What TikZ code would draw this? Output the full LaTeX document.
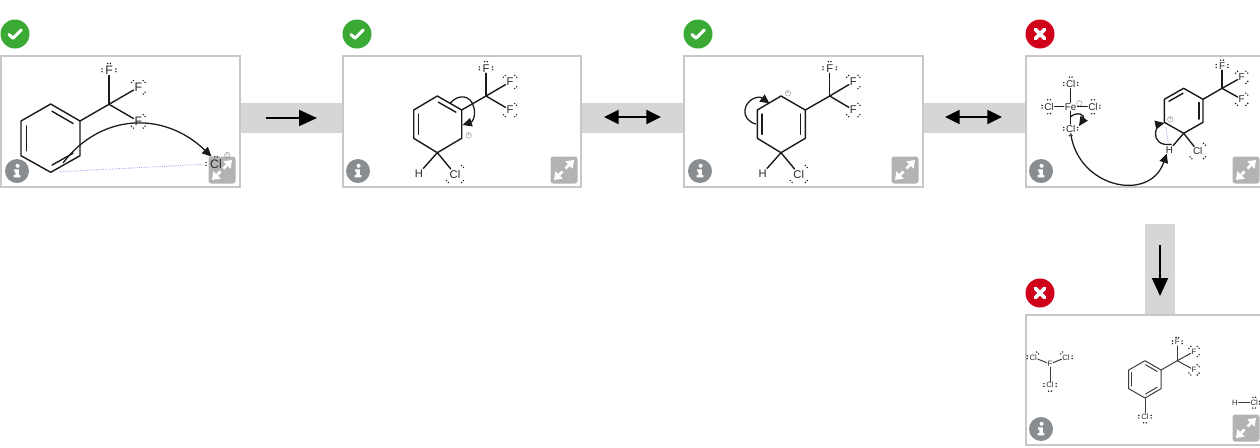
\documentclass[tikz,border=0pt]{standalone}
\usepackage{fontspec}
\setmainfont{Liberation Sans}
\usetikzlibrary{arrows.meta,calc}
\definecolor{okgreen}{HTML}{3AAA35}
\definecolor{badred}{HTML}{D0021B}
\definecolor{infogray}{HTML}{8A8D90}
\definecolor{bargray}{HTML}{D6D6D6}
\definecolor{boxgray}{HTML}{C8C8C8}
\definecolor{expgray}{HTML}{B3B3B3}
\definecolor{ink}{HTML}{1A1A1A}
\definecolor{lbl}{HTML}{2A2A2A}
\definecolor{hint}{HTML}{A9A3F0}
\tikzset{
  panelbox/.style={draw=boxgray,line width=1.5pt,fill=white},
  graybar/.style={fill=bargray,draw=none},
  flowline/.style={line width=1.5pt,black},
  flowone/.style={flowline,-{Stealth[length=13.5pt,width=12pt,inset=0pt]}},
  flowtwo/.style={flowline,{Stealth[length=11pt,width=10.5pt,inset=0pt]}-{Stealth[length=11pt,width=10.5pt,inset=0pt]}},
  bond/.style={ink,line width=1.05pt,line cap=round},
  atomlabel/.style={font=\fontsize{9.2}{10}\selectfont,text=lbl,inner sep=0.6pt},
  pushing/.style={ink,line width=0.95pt,-{Stealth[length=7pt,width=6.5pt,inset=0pt]}},
  hintline/.style={hint,line width=0.7pt,densely dotted},
  charge/.style={circle,draw=gray,line width=0.25pt,inner sep=0pt,minimum size=4.2pt,text=gray,font=\fontsize{4}{4}\selectfont},
  statusok/.style={circle,fill=okgreen,minimum size=21.75pt,inner sep=0pt},
  statusbad/.style={circle,fill=badred,minimum size=21.75pt,inner sep=0pt},
  infodisc/.style={circle,fill=infogray,minimum size=18pt,inner sep=0pt},
  iconwhite/.style={white,line width=2.3pt},
}
\newcommand{\lpS}{1pt}
\newcommand{\lpD}{0.6pt}
% lone pairs around a named atom: node, radius, angles
\newcommand{\pairs}[3]{\foreach \a in {#3}{%
  \fill[ink] (#1.center) ++(\a:#2) ++(\a+90:\lpS) circle[radius=\lpD];
  \fill[ink] (#1.center) ++(\a:#2) ++(\a-90:\lpS) circle[radius=\lpD];}}
\newcommand{\atomat}[4]{\node[atomlabel] (#1) at (#2,#3) {#4};}
% CF3 group: prefix, carbon x,y, top distance, dx, dy, near radius, far radius
\newcommand{\cfthree}[8]{%
  \coordinate (#1c) at (#2,#3);
  \atomat{#1a}{#2}{#3-#4}{F}
  \atomat{#1b}{#2+#5}{#3-#6}{F}
  \atomat{#1d}{#2+#5}{#3+#6}{F}
  \draw[bond] (#1c) -- (#1a);
  \draw[bond] (#1c) -- (#1b);
  \draw[bond] (#1c) -- (#1d);
  \pairs{#1a}{#7}{90,0,180}
  \pairs{#1b}{#8}{135,45,-45}
  \pairs{#1d}{#8}{45,-45,-135}}
\newcommand{\dbl}[3]{\draw[bond] ($(#1)!.14!(#2)!#3!90:(#2)$) -- ($(#1)!.86!(#2)!#3!90:(#2)$);}
\newcommand{\ringat}[7]{%
  \coordinate (#1p) at #2; \coordinate (#1q) at #3; \coordinate (#1r) at #4;
  \coordinate (#1s) at #5; \coordinate (#1t) at #6; \coordinate (#1u) at #7;}
\newcommand{\infoicon}[3]{%
  \node[infodisc] (#1) at (#2,#3) {};
  \begin{scope}[shift={(#2,#3)}]
    \fill[white] (0.6,-5.2) circle[radius=2];
    \fill[white] (-3,-1.6) -- (1.9,-1.6) -- (1.9,4.2) -- (3.4,4.2) -- (3.4,6.4) -- (-3.4,6.4) -- (-3.4,4.2) -- (-1.6,4.2) -- (-1.6,0.6) -- (-3,0.6) -- cycle;
  \end{scope}}
\newcommand{\expandicon}[3]{%
  \node[fill=expgray,rounded corners=2pt,minimum size=20.25pt,inner sep=0pt] (#1) at (#2,#3) {};
  \begin{scope}[shift={(#2,#3)}]
    \fill[white] (10,-10) -- (1.2,-8.6) -- (8.6,-1.2) -- cycle;
    \fill[white] (-10,10) -- (-1.2,8.6) -- (-8.6,1.2) -- cycle;
    \draw[white,line width=1.9pt] (5,-5) -- (1.4,-1.4);
    \draw[white,line width=1.9pt] (-5,5) -- (-1.4,1.4);
  \end{scope}}
\newcommand{\okicon}[3]{%
  \node[statusok] (#1) at (#2,#3) {};
  \draw[iconwhite,line cap=round,line join=round] ($(#1)+(-6,0.5)$) -- ($(#1)+(-2,4.2)$) -- ($(#1)+(6.2,-4)$);}
\newcommand{\badicon}[3]{%
  \node[statusbad] (#1) at (#2,#3) {};
  \draw[iconwhite,line width=2.8pt,line cap=round] ($(#1)+(-4.6,-4.6)$) -- ($(#1)+(4.6,4.6)$);
  \draw[iconwhite,line width=2.8pt,line cap=round] ($(#1)+(-4.6,4.6)$) -- ($(#1)+(4.6,-4.6)$);}
\begin{document}
\begin{tikzpicture}[x=0.75pt,y=-0.75pt]
\clip (0,0) rectangle (1260,447);
\fill[white] (0,0) rectangle (1260,447);
% connecting bars
\fill[graybar] (240,103) rectangle (343,133);
\fill[graybar] (581,103) rectangle (684,133);
\fill[graybar] (923,103) rectangle (1026,133);
\fill[graybar] (1145,224) rectangle (1175,315);
\coordinate (go1a) at (266,118); \coordinate (go1b) at (317,118);
\coordinate (go2a) at (604,117); \coordinate (go2b) at (661,117);
\coordinate (go3a) at (945,117); \coordinate (go3b) at (1002,117);
\coordinate (go4a) at (1160,245); \coordinate (go4b) at (1160,296);
\draw[flowone] (go1a) -- (go1b);
\draw[flowtwo] (go2a) -- (go2b);
\draw[flowtwo] (go3a) -- (go3b);
\draw[flowone] (go4a) -- (go4b);
% panels
\draw[panelbox] (1,56) rectangle (240,187);
\draw[panelbox] (343,56) rectangle (581,187);
\draw[panelbox] (684,56) rectangle (923,187);
\draw[panelbox] (1026,56) rectangle (1270,187);
\draw[panelbox] (1026,315) rectangle (1270,445);
% status icons
\okicon{st1}{15}{34}
\okicon{st2}{357}{34}
\okicon{st3}{698}{34}
\badicon{st4}{1040}{34}
\badicon{st5}{1040}{293}
% info and expand icons
\infoicon{in1}{17}{171}
\infoicon{in2}{358}{171}
\infoicon{in3}{700}{171}
\infoicon{in4}{1041}{171}
\infoicon{in5}{1041}{429}
\expandicon{ex1}{222}{170}
\expandicon{ex2}{564}{170}
\expandicon{ex3}{905}{170}
\expandicon{ex4}{1246}{170}
\expandicon{ex5}{1246}{428}
% panel 1
\ringat{a}{(50.7,104)}{(80,121)}{(80,155.7)}{(50.7,172.3)}{(21,155.7)}{(21,121)}
\draw[bond,line join=round] (ap) -- (aq) -- (ar) -- (as) -- (at) -- (au) -- cycle;
\dbl{ap}{aq}{-4.2pt}\dbl{ar}{as}{-4.2pt}\dbl{at}{au}{-4.2pt}
\cfthree{af}{109}{104.3}{34}{29.3}{17}{5.2pt}{6.2pt}
\draw[bond] (aq) -- (afc);
\atomat{acl}{216}{164}{Cl}
\pairs{acl}{7.5pt}{180}
\pairs{acl}{5.5pt}{90}
\node[charge] (ach) at (227.3,155) {+};
\coordinate (aarcs) at (63,163); \coordinate (aarce) at (211.5,156.5);
\coordinate (ahint) at (60,171.7); \coordinate (ahintb) at (203,164.3);
\draw[pushing] (aarcs) .. controls (100,114) and (163,110) .. (aarce);
\draw[hintline] (ahint) -- (ahintb);
% panel 2
\begin{scope}[atomlabel/.style={font=\fontsize{8.4}{9}\selectfont,text=lbl,inner sep=0.6pt}]
\ringat{b}{(437.3,96)}{(461.7,110)}{(461.7,138.3)}{(437.3,152.7)}{(413.7,138.3)}{(413.7,110)}
\draw[bond,line join=round] (bq) -- (bp) -- (bu) -- (bt) -- (bs) -- (br) -- (bq);
\dbl{bp}{bq}{-3.6pt}\dbl{bt}{bu}{-3.6pt}
\cfthree{bf}{486}{96}{27.7}{24}{14}{5pt}{6pt}
\draw[bond] (bq) -- (bfc);
\atomat{bh}{419}{173.3}{H}
\atomat{bcl}{455}{174}{Cl}
\draw[bond] (bs) -- (bh);
\draw[bond] (bs) -- (bcl);
\pairs{bcl}{8pt}{45,-45,-135}
\node[charge] (bch) at (468.7,135.3) {+};
\coordinate (barcs) at (450,103.3); \coordinate (barce) at (462.5,125);
\draw[pushing] (barcs) .. controls (458,94) and (471,94) .. (474,108) .. controls (476,117) and (472,122) .. (barce);
\end{scope}
% panel 3
\begin{scope}[atomlabel/.style={font=\fontsize{8.4}{9}\selectfont,text=lbl,inner sep=0.6pt}]
\ringat{c}{(781,96)}{(805.3,110)}{(805.3,138.3)}{(781,152.7)}{(757.3,138.3)}{(757.3,110)}
\draw[bond,line join=round] (cp) -- (cq) -- (cr) -- (cs) -- (ct) -- (cu) -- cycle;
\dbl{cq}{cr}{-3.6pt}\dbl{ct}{cu}{-3.6pt}
\cfthree{cf}{829.7}{96}{27.7}{23.6}{14}{5pt}{6pt}
\draw[bond] (cq) -- (cfc);
\atomat{ch}{762.7}{173.3}{H}
\atomat{ccl}{798.7}{174}{Cl}
\draw[bond] (cs) -- (ch);
\draw[bond] (cs) -- (ccl);
\pairs{ccl}{8pt}{45,-45,-135}
\node[charge] (cch) at (788,93.3) {+};
\coordinate (carcs) at (756,124); \coordinate (carce) at (769.5,103.5);
\draw[pushing] (carcs) .. controls (748,122) and (744,116) .. (745,110) .. controls (746,100) and (758,95) .. (carce);
\end{scope}
% panel 4
\begin{scope}[atomlabel/.style={font=\fontsize{7.4}{8}\selectfont,text=lbl,inner sep=0.5pt}]
\ringat{d}{(1183.7,88.3)}{(1203,99.3)}{(1203,122.3)}{(1183.7,133.3)}{(1164.3,122.3)}{(1164.3,99.3)}
\draw[bond,line join=round] (dp) -- (dq) -- (dr) -- (ds) -- (dt) -- (du) -- cycle;
\dbl{dq}{dr}{-3pt}\dbl{du}{dp}{-3pt}
\cfthree{df}{1222}{88.3}{22.3}{19.7}{11}{4.4pt}{5.4pt}
\draw[bond] (dq) -- (dfc);
\atomat{dh}{1169.3}{150}{H}
\atomat{dcl}{1197.7}{151}{Cl}
\draw[bond] (ds) -- (dh);
\draw[bond] (ds) -- (dcl);
\pairs{dcl}{7.2pt}{45,-45,-135}
\node[charge] (dch) at (1170.3,119.3) {+};
\atomat{fe}{1070.7}{106.7}{Fe}
\atomat{ft}{1070.7}{84}{Cl}
\atomat{fl}{1049}{106.7}{Cl}
\atomat{fr}{1093}{106.7}{Cl}
\atomat{fb}{1070.7}{128.7}{Cl}
\draw[bond,line width=0.7pt] (fe) -- (ft);
\draw[bond,line width=0.7pt] (fe) -- (fl);
\draw[bond,line width=0.7pt] (fe) -- (fr);
\draw[bond,line width=0.7pt] (fe) -- (fb);
\pairs{ft}{5.2pt}{90,0,180}
\pairs{fl}{5.2pt}{90,-90,180}
\pairs{fr}{5.2pt}{90,-90,0}
\pairs{fb}{5.2pt}{0,180,-90}
\node[charge] (fch) at (1079.3,103.3) {\raisebox{0.2pt}{-}};
\coordinate (darcs) at (1070.7,116.7); \coordinate (darce) at (1079,126);
\draw[pushing] (darcs) .. controls (1076,112) and (1086,113) .. (1083,120) -- (darce);
\coordinate (darfs) at (1070.7,133.3); \coordinate (darfe) at (1166.7,153.5);
\draw[pushing] (darfs) .. controls (1078,188) and (1150,203) .. (darfe);
\coordinate (dargs) at (1171.7,144.3); \coordinate (darge) at (1164.5,123);
\draw[pushing] (dargs) .. controls (1160,146) and (1155,140) .. (1155.5,133) .. controls (1156,127) and (1160,124) .. (darge);
\coordinate (dhinta) at (1166,126.7); \coordinate (dhintb) at (1168.3,143.3);
\draw[hintline] (dhinta) -- (dhintb);
\end{scope}
% panel 5
\begin{scope}[atomlabel/.style={font=\fontsize{5.8}{6}\selectfont,text=lbl,inner sep=0.4pt},bond/.style={ink!85!white,line width=0.75pt,line cap=round}]
\ringat{e}{(1145,360.7)}{(1161,370)}{(1161,388.7)}{(1145,398)}{(1128.7,388.7)}{(1128.7,370)}
\draw[bond,line join=round] (ep) -- (eq) -- (er) -- (es) -- (et) -- (eu) -- cycle;
\dbl{ep}{eq}{-2.4pt}\dbl{er}{es}{-2.4pt}\dbl{et}{eu}{-2.4pt}
\cfthree{ef}{1177.3}{360.7}{18.4}{16.7}{9.2}{3.6pt}{4.4pt}
\draw[bond] (eq) -- (efc);
\atomat{ecl}{1145}{416.7}{Cl}
\draw[bond] (es) -- (ecl);
\pairs{ecl}{4.6pt}{0,180,-90}
\atomat{xf}{1050}{364}{F}
\atomat{xl}{1033.3}{357.3}{Cl}
\atomat{xr}{1066}{357.3}{Cl}
\atomat{xb}{1050}{385}{Cl}
\draw[bond] (xf) -- (xl);
\draw[bond] (xf) -- (xr);
\draw[bond] (xf) -- (xb);
\pairs{xl}{4.6pt}{180,45}
\pairs{xr}{4.6pt}{135,0}
\pairs{xb}{4.6pt}{180,0,-90}
\atomat{hh}{1235}{402.7}{H}
\atomat{hc}{1254.3}{402.7}{Cl}
\draw[bond] (hh) -- (hc);
\pairs{hc}{4pt}{90,-90,0}
\end{scope}
\end{tikzpicture}
\end{document}
